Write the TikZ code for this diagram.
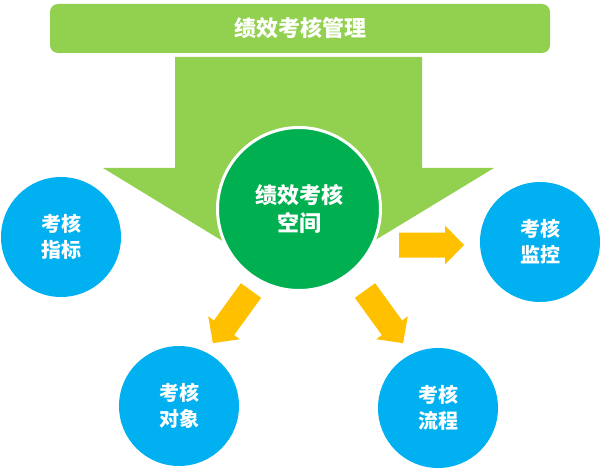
\documentclass[tikz,border=0pt]{standalone}
\usepackage{fontspec}
\usepackage{xcolor}
\usepackage{tikz}
\usetikzlibrary{calc}

\newfontfamily\cjk{Noto Sans CJK SC}

\definecolor{barGreen}{HTML}{92D050}
\definecolor{coreGreen}{HTML}{00B050}
\definecolor{ballBlue}{HTML}{00B0F0}
\definecolor{arrowYellow}{HTML}{FFC000}

\tikzset{
  ball/.style={circle, fill=ballBlue, minimum size=120pt, inner sep=0pt,
    text=white, align=center, font=\cjk\bfseries\fontsize{20}{26}\selectfont},
  fatarrow/.style={fill=arrowYellow},
}

% yellow block arrow: tail centre, angle
\newcommand{\fatarrow}[2]{%
  \fill[fatarrow, shift={#1}, rotate=#2]
    (0,-12.5) -- (46,-12.5) -- (46,-19.5) -- (65,0)
    -- (46,19.5) -- (46,12.5) -- (0,12.5) -- cycle;}

\begin{document}
\begin{tikzpicture}[x=1pt, y=1pt]

\useasboundingbox (0,0) rectangle (600,-468);

%-- title bar
\node[fill=barGreen, rounded corners=8pt, minimum width=500pt,
      minimum height=49pt, inner sep=0pt, text=white,
      font=\cjk\bfseries\fontsize{22}{26}\selectfont]
  (guanli) at (300,-28.5) {绩效考核管理};

%-- big green down arrow
\fill[barGreen]
  (175,-57) -- (422,-57) -- (422,-168) -- (494,-168)
  -- (298,-287) -- (103,-168) -- (175,-168) -- cycle;

%-- centre
\node[circle, fill=coreGreen, draw=white, line width=3pt,
      minimum size=163pt, inner sep=0pt, text=white, align=center,
      font=\cjk\bfseries\fontsize{22}{28}\selectfont]
  (kongjian) at (299,-209) {绩效考核\\空间};

%-- the four topics
\node[ball] (zhibiao) at ( 61,-237) {考核\\指标};
\node[ball] (jiankong) at (540,-242) {考核\\监控};
\node[ball] (duixiang) at (179,-406) {考核\\对象};
\node[ball] (liucheng) at (438,-408) {考核\\流程};

%-- yellow arrows
\fatarrow{(399,-245)}{0}
\fatarrow{(251,-290.5)}{234.1}
\fatarrow{(365,-290.5)}{-54.1}

\end{tikzpicture}
\end{document}
